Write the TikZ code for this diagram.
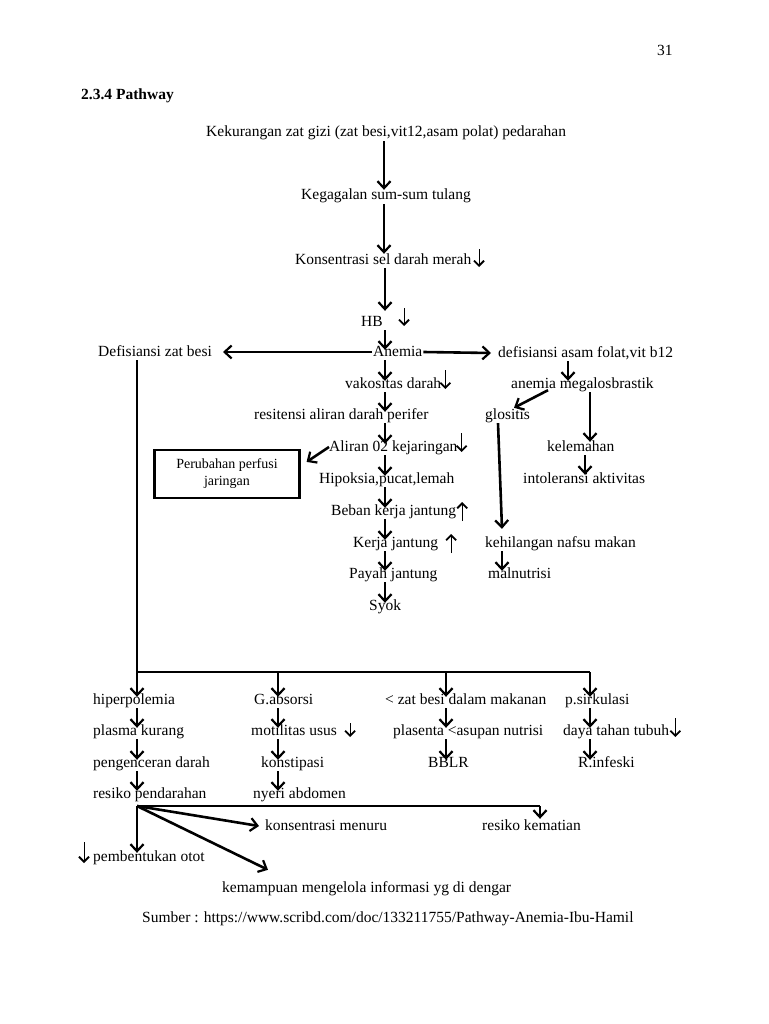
\documentclass[tikz,border=0pt]{standalone}
\usepackage{fontspec}
\setmainfont{Liberation Serif}
\usetikzlibrary{arrows.meta,calc}
\begin{document}
\begin{tikzpicture}[x=1pt,y=-1pt,
  txt/.style={inner sep=1pt, anchor=west, text height=11pt, text depth=3pt, font=\fontsize{15.5}{17}\selectfont},
  arr/.style={line width=2.6pt, -{Straight Barb[length=7pt,width=13pt,line width=2.2pt]}},
  ln/.style={line width=2.6pt},
  sym/.style={line width=0.9pt, -{Straight Barb[length=5pt,width=10pt,line width=1.8pt]}},
  boxst/.style={draw, line width=2.2pt, minimum width=145pt, minimum height=48pt, align=center, font=\fontsize{14}{17}\selectfont}]
\useasboundingbox[fill=white] (0,0) rectangle (768,1024);

% header
\node[txt] (pg) at (656,52) {31};
\node[txt, font=\fontsize{15.5}{17}\selectfont\bfseries] (title) at (80,96) {2.3.4 Pathway};

% top chain
\node[txt] (kek) at (205,133) {Kekurangan zat gizi (zat besi,vit12,asam polat) pedarahan};
\node[txt] (keg) at (300,196) {Kegagalan sum-sum tulang};
\node[txt] (kon) at (294,260) {Konsentrasi sel darah merah};
\node[txt] (hb) at (360,322) {HB};
\node[txt] (ane) at (372,352) {Anemia};
\node[txt] (dzb) at (97,352) {Defisiansi zat besi};
\node[txt] (dfa) at (497,353) {defisiansi asam folat,vit b12};

\draw[arr] (kek.south -| 384,0) -- ($(keg.north -| 384,0)+(0,2)$);
\draw[arr] (keg.south -| 384,0) -- ($(kon.north -| 384,0)+(0,2)$);
\draw[arr] (kon.south -| 385,0) -- ($(hb.north -| 385,0)+(0,-3)$);
\draw[arr] (hb.south -| 385,0) -- ($(ane.north -| 385,0)+(0,6)$);
\draw[arr] (ane.west) -- ($(dzb.east)+(10,0)$);
\draw[arr] (ane.east) -- ($(dfa.west)+(-6,0)$);
\coordinate (s1) at (479,249);
\coordinate (s1e) at (479,267);
\draw[sym] (s1) -- (s1e);
\coordinate (s2) at (404,308);
\coordinate (s2e) at (404,326);
\draw[sym] (s2) -- (s2e);

% centre column
\node[txt] (vak) at (344,384) {vakositas darah};
\node[txt] (res) at (253,415) {resitensi aliran darah perifer};
\node[txt] (ali) at (328,447) {Aliran 02 kejaringan};
\node[txt] (hip) at (318,479) {Hipoksia,pucat,lemah};
\node[txt] (beb) at (330,511) {Beban kerja jantung};
\node[txt] (ker) at (352,543) {Kerja jantung};
\node[txt] (pay) at (348,574) {Payah jantung};
\node[txt] (syo) at (368,606) {Syok};
\node[boxst] (box) at (227,474) {Perubahan perfusi\\jaringan};

\draw[arr] (ane.south -| 385,0) -- ($(vak.north -| 385,0)+(0,5)$);
\draw[arr] (vak.south -| 385,0) -- ($(res.north -| 385,0)+(0,5)$);
\draw[arr] (res.south -| 385,0) -- ($(ali.north -| 385,0)+(0,5)$);
\draw[arr] (ali.south -| 385,0) -- ($(hip.north -| 385,0)+(0,5)$);
\draw[arr] (hip.south -| 385,0) -- ($(beb.north -| 385,0)+(0,5)$);
\draw[arr] (beb.south -| 385,0) -- ($(ker.north -| 385,0)+(0,5)$);
\draw[arr] (ker.south -| 385,0) -- ($(pay.north -| 385,0)+(0,5)$);
\draw[arr] (pay.south -| 385,0) -- ($(syo.north -| 385,0)+(0,5)$);
\draw[arr] ($(ali.west)+(1,0)$) -- ($(box.north east)+(6,13)$);

\draw[sym] ($(vak.east)+(3,-14)$) -- ($(vak.east)+(3,5)$);
\draw[sym] ($(ali.east)+(3,-14)$) -- ($(ali.east)+(3,5)$);
\draw[sym] ($(beb.east)+(5,10)$) -- ($(beb.east)+(5,-9)$);
\draw[sym] ($(ker.east)+(12,10)$) -- ($(ker.east)+(12,-9)$);

% right column
\node[txt] (amg) at (510,384) {anemia megalosbrastik};
\node[txt] (gls) at (484,415) {glositis};
\node[txt] (kel) at (546,447) {kelemahan};
\node[txt] (int) at (522,479) {intoleransi aktivitas};
\node[txt] (keh) at (484,543) {kehilangan nafsu makan};
\node[txt] (mal) at (487,574) {malnutrisi};

\draw[arr] (dfa.south -| 568,0) -- ($(amg.north -| 568,0)+(0,5)$);
\draw[arr] ($(amg.south west)+(38,-2)$) -- ($(gls.north west)+(30,1)$);
\draw[arr] (amg.south -| 590,0) -- ($(kel.north -| 590,0)+(0,3)$);
\draw[arr] (kel.south -| 585,0) -- ($(int.north -| 585,0)+(0,4)$);
\draw[arr] (gls.south -| 498,0) -- ($(keh.north -| 502,0)+(0,-6)$);
\draw[arr] (keh.south -| 502,0) -- ($(mal.north -| 502,0)+(0,5)$);

% left trunk and distribution bar
\coordinate (j1) at (137,672);
\coordinate (j2) at (278,672);
\coordinate (j3) at (446,672);
\coordinate (j4) at (590,672);
\draw[ln] (dzb.south -| 137,0) -- (j1) -- (j4);

% bottom rows
\node[txt] (hpl) at (92,700) {hiperpolemia};
\node[txt] (gab) at (253,700) {G.absorsi};
\node[txt] (zbm) at (384,700) {< zat besi dalam makanan};
\node[txt] (psk) at (564,700) {p.sirkulasi};

\node[txt] (plk) at (92,731) {plasma kurang};
\node[txt] (mtu) at (250,731) {motilitas usus};
\node[txt] (pls) at (392,731) {plasenta <asupan nutrisi};
\node[txt] (dtt) at (562,731) {daya tahan tubuh};

\node[txt] (pgd) at (92,763) {pengenceran darah};
\node[txt] (kst) at (260,763) {konstipasi};
\node[txt] (bbl) at (427,763) {BBLR};
\node[txt] (rin) at (577,763) {R.infeski};

\node[txt] (rpd) at (92,794) {resiko pendarahan};
\node[txt] (nya) at (252,794) {nyeri abdomen};

\draw[arr] (j1) -- ($(hpl.north -| 137,0)+(0,5)$);
\draw[arr] (j2) -- ($(gab.north -| 278,0)+(0,5)$);
\draw[arr] (j3) -- ($(zbm.north -| 446,0)+(0,5)$);
\draw[arr] (j4) -- ($(psk.north -| 590,0)+(0,5)$);

\draw[arr] (hpl.south -| 137,0) -- ($(plk.north -| 137,0)+(0,5)$);
\draw[arr] (plk.south -| 137,0) -- ($(pgd.north -| 137,0)+(0,5)$);
\draw[arr] (pgd.south -| 137,0) -- ($(rpd.north -| 137,0)+(0,5)$);
\draw[arr] (gab.south -| 278,0) -- ($(mtu.north -| 278,0)+(0,5)$);
\draw[arr] (mtu.south -| 278,0) -- ($(kst.north -| 278,0)+(0,5)$);
\draw[arr] (kst.south -| 278,0) -- ($(nya.north -| 278,0)+(0,5)$);
\draw[arr] (zbm.south -| 446,0) -- ($(pls.north -| 446,0)+(0,5)$);
\draw[arr] (pls.south -| 446,0) -- ($(bbl.north -| 446,0)+(0,5)$);
\draw[arr] (psk.south -| 590,0) -- ($(dtt.north -| 590,0)+(0,5)$);
\draw[arr] (dtt.south -| 590,0) -- ($(rin.north -| 590,0)+(0,5)$);

\draw[sym] ($(mtu.east)+(12,-8)$) -- ($(mtu.east)+(12,6)$);
\draw[sym] ($(dtt.east)+(5,-13)$) -- ($(dtt.east)+(5,6)$);

% consequences of resiko pendarahan
\node[txt] (rkm) at (481,826) {resiko kematian};
\node[txt] (kmn) at (264,826) {konsentrasi menuru};
\node[txt] (pbo) at (92,857) {pembentukan otot};
\node[txt] (kmp) at (221,888) {kemampuan mengelola informasi yg di dengar};
\node[txt] (src) at (141,918) {Sumber : https://www.scribd.com/doc/133211755/Pathway-Anemia-Ibu-Hamil};

\coordinate (rp) at (137,806);
\coordinate (rk) at (540,806);
\draw[ln] (rp) -- (rk);
\draw[arr] (rk) -- ($(rkm.north -| 540,0)+(0,1)$);
\draw[arr] (rp) -- ($(kmn.west)+(-5,0)$);
\draw[arr] (rp) -- ($(pbo.north -| 137,0)+(0,4)$);
\draw[arr] (rp) -- ($(kmp.north west)+(47,-10)$);
\draw[sym] ($(pbo.west)+(-8,-15)$) -- ($(pbo.west)+(-8,6)$);
\end{tikzpicture}
\end{document}
